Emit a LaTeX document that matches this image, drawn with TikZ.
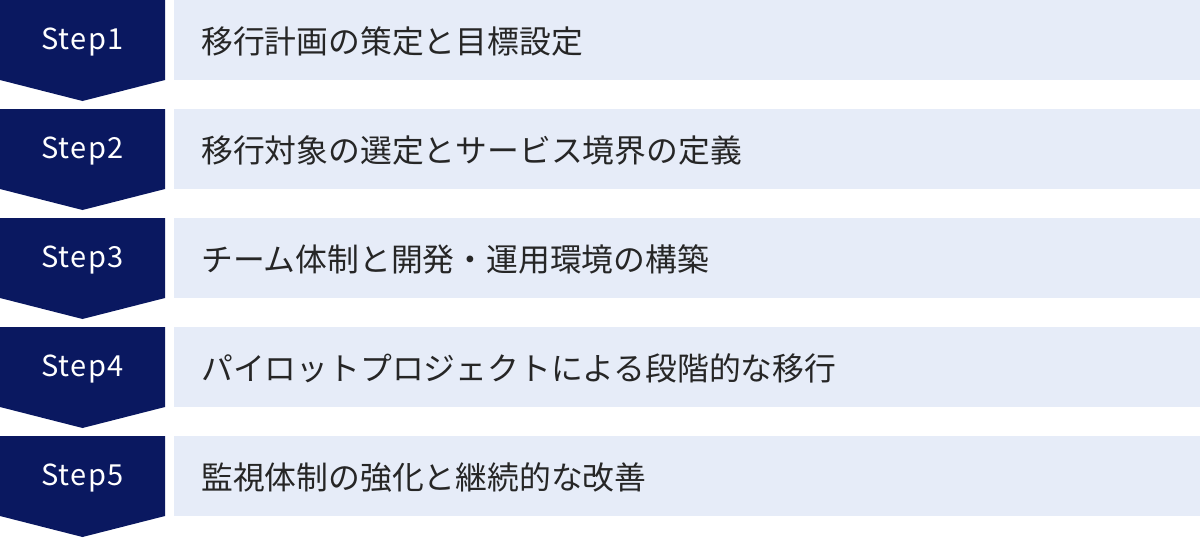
\documentclass[tikz,border=0pt]{standalone}
\usepackage{fontspec}
\setmainfont{Noto Sans CJK JP}
\newfontfamily\jpfont{Noto Sans CJK JP}
\newfontfamily\stepfont[LetterSpace=5]{Noto Sans CJK JP}
\definecolor{navy}{RGB}{10,24,96}
\definecolor{pale}{RGB}{230,236,248}
\begin{document}
\begin{tikzpicture}[x=1pt,y=-1pt,
  stepshape/.style={fill=navy,draw=none},
  stepbox/.style={fill=pale,draw=none},
  steplabel/.style={text=white,font=\stepfont\fontsize{29}{32}\selectfont,anchor=center,inner sep=0},
  desc/.style={text=black!85,font=\jpfont\fontsize{31.8}{36}\selectfont,anchor=west,inner sep=0}]
\useasboundingbox (0,0) rectangle (1200,538);
\foreach \i/\t [count=\n from 0] in {1/移行計画の策定と目標設定,2/移行対象の選定とサービス境界の定義,3/チーム体制と開発・運用環境の構築,4/パイロットプロジェクトによる段階的な移行,5/監視体制の強化と継続的な改善}{
  \pgfmathsetmacro{\y}{\n*109}
  \fill[stepshape] (0,\y) -- (165,\y) -- (165,\y+80) -- (82.5,\y+101) -- (0,\y+80) -- cycle;
  \node[steplabel] (s\i) at (82.5,\y+42) {Step\i};
  \fill[stepbox] (174,\y) rectangle (1200,\y+80);
  \node[desc] (d\i) at (201,\y+41) {\t};
}
\end{tikzpicture}
\end{document}
